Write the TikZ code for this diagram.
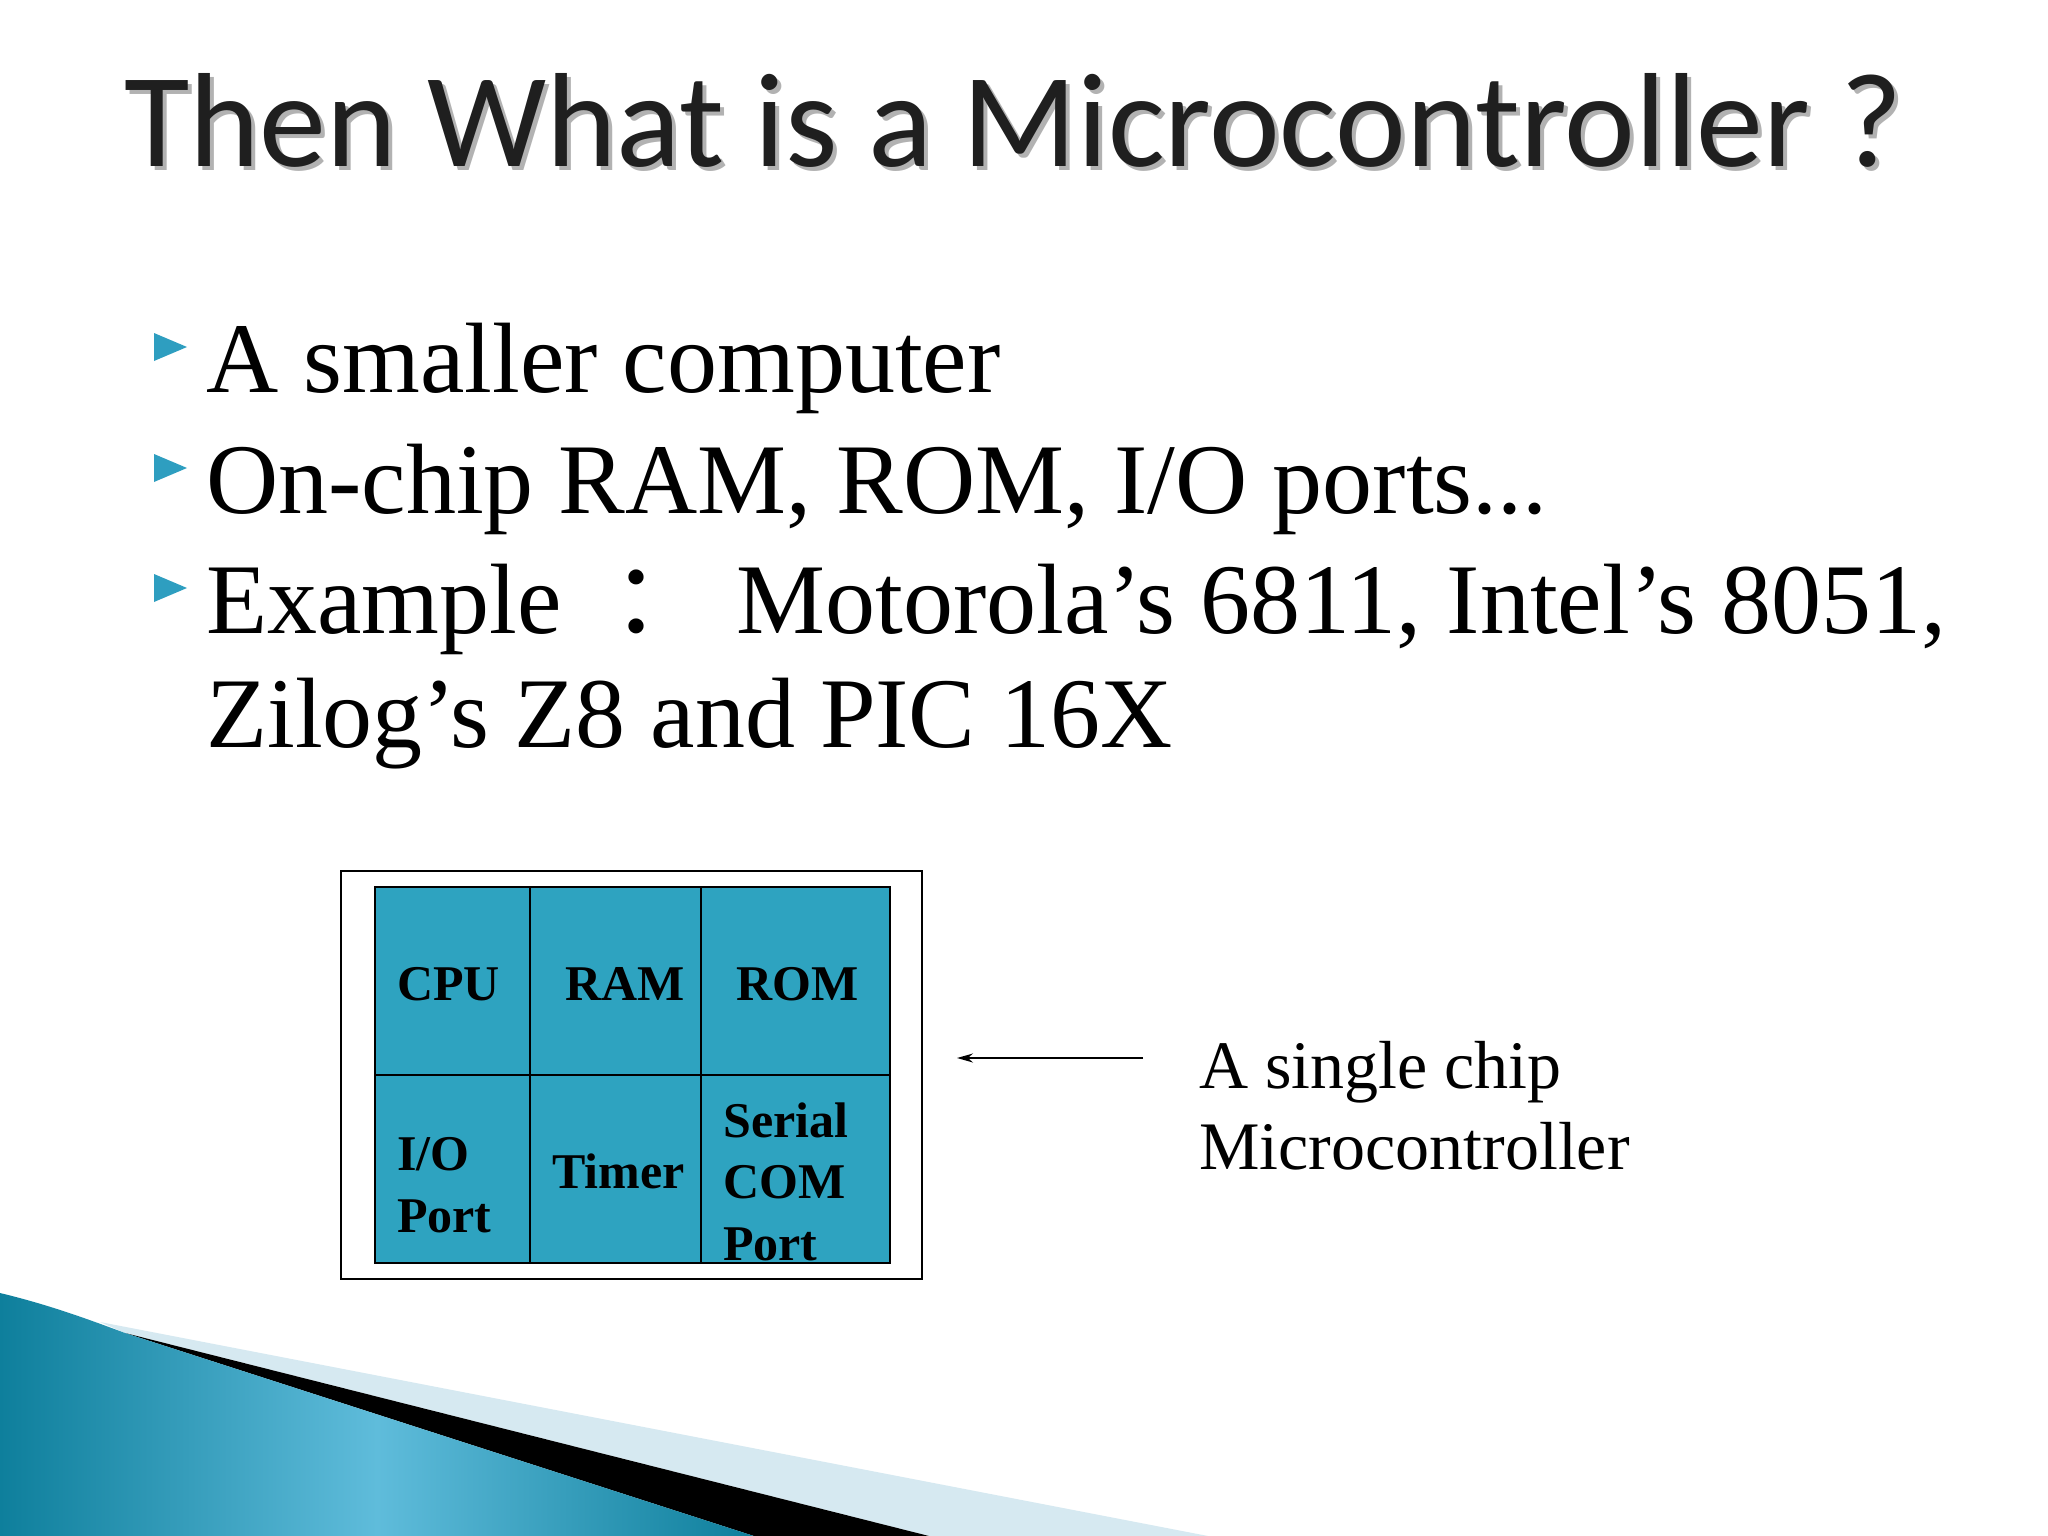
\documentclass[tikz,border=0pt]{standalone}
\usepackage{fontspec}
\setmainfont{Liberation Serif}
\newfontfamily\titlefont{Carlito}
\newfontfamily\cjk{Noto Sans CJK SC}
\usetikzlibrary{arrows.meta}
\definecolor{teal1}{HTML}{2EA3C0}
\definecolor{bul}{HTML}{2E9EC0}
\definecolor{dteal}{HTML}{0E7F9C}
\definecolor{lteal}{HTML}{5FBCDB}
\definecolor{lband}{HTML}{D6E9F1}
\tikzset{
 bullettext/.style={anchor=base west,inner sep=0pt,font=\fontsize{100}{110}\selectfont},
 boxtext/.style={anchor=base west,inner sep=0pt,font=\fontsize{50}{62}\selectfont\bfseries},
 lbl/.style={anchor=base west,inner sep=0pt,font=\fontsize{68}{82}\selectfont},
 bullet/.style={fill=bul},
 cell/.style={draw=black,line width=2pt}
}
\begin{document}
\begin{tikzpicture}[x=1pt,y=-1pt]
\useasboundingbox (0,0) rectangle (2048,1536);
\fill[white] (0,0) rectangle (2048,1536);
% title
\node[anchor=base west,inner sep=0pt,font=\titlefont\fontsize{134}{140}\selectfont,text=black!30] at (128,171) {Then What is a Microcontroller ?};
\node[anchor=base west,inner sep=0pt,font=\titlefont\fontsize{134}{140}\selectfont,text=black!88] (title) at (124,167) {Then What is a Microcontroller ?};
% bullets
\foreach \yy in {392,513,633} \fill[bullet] (154,\yy-59) -- (187,\yy-45) -- (154,\yy-31) -- cycle;
\node[bullettext] (b1) at (206,392) {A smaller computer};
\node[bullettext] (b2) at (206,513) {On-chip RAM, ROM, I/O ports...};
\node[bullettext] (b3) at (206,633) {Example\ \ {\cjk ：}\ Motorola’s 6811, Intel’s 8051,};
\node[bullettext] (b4) at (206,747) {Zilog’s Z8 and PIC 16X};
% chip
\draw[line width=2pt] (341,871) rectangle (922,1279);
\fill[teal1] (375,887) rectangle (890,1263);
\draw[cell] (375,887) rectangle (890,1263);
\draw[cell] (375,1075) -- (890,1075);
\draw[cell] (530,887) -- (530,1263);
\draw[cell] (701,887) -- (701,1263);
\node[boxtext] (cpu) at (397,1000) {CPU};
\node[boxtext] (ram) at (565,1000) {RAM};
\node[boxtext] (rom) at (736,1000) {ROM};
\node[boxtext] (io1) at (397,1170) {I/O};
\node[boxtext] (io2) at (397,1232) {Port};
\node[boxtext] (timer) at (552,1188) {Timer};
\node[boxtext] (ser1) at (723,1137) {Serial};
\node[boxtext] (ser2) at (723,1198) {COM};
\node[boxtext] (ser3) at (723,1260) {Port};
\coordinate (chipR) at (957,1058);
\coordinate (arrS) at (1143,1058);
\draw[line width=1.6pt,-{Stealth[length=16pt,width=9pt]}] (arrS) -- (chipR);
\node[lbl] (lab1) at (1199,1088) {A single chip};
\node[lbl] (lab2) at (1199,1169) {Microcontroller};
% bottom decoration
\fill[lband] (100,1322) -- (1208,1536) -- (929,1536) -- (125,1333) -- cycle;
\fill[black] (125,1333) -- (929,1536) -- (754,1536) -- cycle;
\shade[left color=dteal,right color=dteal,middle color=lteal] (0,1293) .. controls (50,1305) and (90,1320) .. (125,1333) -- (754,1536) -- (0,1536) -- cycle;
\end{tikzpicture}
\end{document}
